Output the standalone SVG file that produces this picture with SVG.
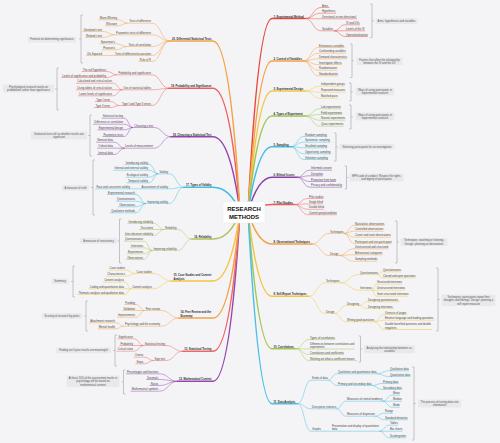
<svg xmlns="http://www.w3.org/2000/svg" width="500" height="443" viewBox="0 0 500 443">
<style>
text{font-family:"Liberation Sans",Arial,sans-serif;font-size:2.7px;fill:#444}
.l{font-weight:700;fill:#2a2a2a}
.e{text-anchor:end}
.m{text-anchor:middle;fill:#555}
.sb{fill:#e9e9ec}
.br{fill:none;stroke:#c2c2c6;stroke-width:1;stroke-linejoin:round;stroke-linecap:round}
.mn{fill:none;stroke-width:1.5;stroke-linecap:round}
.sub{fill:none;stroke-width:.6;opacity:.8}
.ctr{font-size:6px;font-weight:700;fill:#111;text-anchor:middle}
</style>
<rect width="500" height="443" fill="#f4f4f6"/>
<g id="connectors">
<g stroke="#e9473d"><path class="mn" d="M248 212Q258 18.5 272 18.5H305"/><g class="sub"><path d="M305 18.5C313 18.5 313 7.5 321 7.5H329.5M305 18.5C313 18.5 313 13.2 321 13.2H336M305 18.5C313 18.5 313 18.8 321 18.8H357M305 18.5C313 18.5 313 30.8 321 30.8H334M334 30.8C339.5 30.8 339.5 24.8 345 24.8H360M334 30.8H365M334 30.8C339.5 30.8 339.5 36.5 345 36.5H368"/></g></g>
<g stroke="#f4a146"><path class="mn" d="M248 212Q258 61 272 61H303.5"/><g class="sub"><path d="M303.5 61C310.8 61 310.8 47.5 318 47.5H344.5M303.5 61C310.8 61 310.8 53.2 318 53.2H346M303.5 61C310.8 61 310.8 58.8 318 58.8H347M303.5 61C310.8 61 310.8 64.5 318 64.5H342M303.5 61C310.8 61 310.8 70.2 318 70.2H337M303.5 61C310.8 61 310.8 75.8 318 75.8H338"/></g></g>
<g stroke="#f2c641"><path class="mn" d="M248 212Q258 91 272 91H305"/><g class="sub"><path d="M305 91C312.5 91 312.5 86.2 320 86.2H345M305 91C312.5 91 312.5 92.2 320 92.2H345.5M305 91C312.5 91 312.5 98.2 320 98.2H338"/></g></g>
<g stroke="#9dc44d"><path class="mn" d="M248 212Q258 116 272 116H305"/><g class="sub"><path d="M305 116C312.5 116 312.5 108.8 320 108.8H341M305 116C312.5 116 312.5 114.5 320 114.5H342M305 116C312.5 116 312.5 120.2 320 120.2H345M305 116C312.5 116 312.5 126.2 320 126.2H343.5"/></g></g>
<g stroke="#3fbde2"><path class="mn" d="M248 212Q258 146.7 272 146.7H290.5"/><g class="sub"><path d="M290.5 146.7C297.3 146.7 297.3 136.5 304 136.5H327M290.5 146.7C297.3 146.7 297.3 142.2 304 142.2H330M290.5 146.7C297.3 146.7 297.3 147.8 304 147.8H327M290.5 146.7C297.3 146.7 297.3 153.8 304 153.8H330.5M290.5 146.7C297.3 146.7 297.3 159.5 304 159.5H328"/></g></g>
<g stroke="#8a3fa6"><path class="mn" d="M248 212Q258 177.3 272 177.3H297"/><g class="sub"><path d="M297 177.3C303.5 177.3 303.5 170.2 310 170.2H332M297 177.3C303.5 177.3 303.5 175.8 310 175.8H323M297 177.3C303.5 177.3 303.5 181.5 310 181.5H336M297 177.3C303.5 177.3 303.5 187.2 310 187.2H342"/></g></g>
<g stroke="#ee5b5b"><path class="mn" d="M248 212Q258 204.5 272 204.5H294"/><g class="sub"><path d="M294 204.5C301 204.5 301 198.5 308 198.5H323.5M294 204.5C301 204.5 301 203.9 308 203.9H323M294 204.5C301 204.5 301 209.3 308 209.3H324M294 204.5C301 204.5 301 214.7 308 214.7H337"/></g></g>
<g stroke="#f4a146"><path class="mn" d="M248 212Q258 244 272 244H312"/><g class="sub"><path d="M312 244C320.5 244 320.5 233.5 329 233.5H344M312 244C320.5 244 320.5 255.5 329 255.5H338.5M344 233.5C349 233.5 349 225.5 354 225.5H384.5M344 233.5C349 233.5 349 231.2 354 231.2H383.5M344 233.5C349 233.5 349 237.2 354 237.2H391M344 233.5C349 233.5 349 243.5 354 243.5H391.5M338.5 255.5C346.3 255.5 346.3 248.8 354 248.8H388.5M338.5 255.5C346.3 255.5 346.3 254.8 354 254.8H382.5M338.5 255.5C346.3 255.5 346.3 261.2 354 261.2H377.5"/></g></g>
<g stroke="#f2c641"><path class="mn" d="M248 212Q258 296.3 272 296.3H308.5"/><g class="sub"><path d="M308.5 296.3C316.8 296.3 316.8 282.8 325 282.8H340M308.5 296.3C316.8 296.3 316.8 313.5 325 313.5H334.5M340 282.8C349.5 282.8 349.5 274.5 359 274.5H378M340 282.8C349.5 282.8 349.5 290.2 359 290.2H372M378 274.5C380 274.5 380 271.8 382 271.8H401M378 274.5C380 274.5 380 277.8 382 277.8H415.5M372 290.2C374 290.2 374 284.2 376 284.2H402M372 290.2H405M372 290.2C374 290.2 374 296.2 376 296.2H408M334.5 313.5C340.3 313.5 340.3 305.5 346 305.5H359M334.5 313.5C340.3 313.5 340.3 321.8 346 321.8H374.5M359 305.5C363 305.5 363 301.8 367 301.8H399.5M359 305.5C363 305.5 363 308.5 367 308.5H394M374.5 321.8C379.3 321.8 379.3 314.5 384 314.5H407.5M374.5 321.8C379.3 321.8 379.3 320.2 384 320.2H434.5M374.5 321.8C379.3 321.8 379.3 329.5 384 329.5H432"/></g></g>
<g stroke="#a6c653"><path class="mn" d="M248 212Q258 348.7 272 348.7H295.5"/><g class="sub"><path d="M295.5 348.7C302.3 348.7 302.3 339.5 309 339.5H335M295.5 348.7C302.3 348.7 302.3 349 309 349H354.5M295.5 348.7C302.3 348.7 302.3 354.5 309 354.5H344M295.5 348.7C302.3 348.7 302.3 360.5 309 360.5H357"/></g></g>
<g stroke="#4cc0e4"><path class="mn" d="M248 212Q258 403.7 272 403.7H297.5"/><g class="sub"><path d="M297.5 403.7C304.3 403.7 304.3 380.2 311 380.2H328M297.5 403.7C304.3 403.7 304.3 408.8 311 408.8H336.5M297.5 403.7C304.3 403.7 304.3 431.2 311 431.2H321M328 380.2C332.5 380.2 332.5 373.8 337 373.8H376.5M328 380.2C332.5 380.2 332.5 385.5 337 385.5H372M376.5 373.8C382.8 373.8 382.8 370.8 389 370.8H409M376.5 373.8C382.8 373.8 382.8 376.5 389 376.5H410.5M372 385.5C377 385.5 377 383.5 382 383.5H398.5M372 385.5C377 385.5 377 389.5 382 389.5H402M336.5 408.8C341.3 408.8 341.3 401.2 346 401.2H382.5M336.5 408.8C341.3 408.8 341.3 416.2 346 416.2H375M382.5 401.2C387.3 401.2 387.3 395.2 392 395.2H400M382.5 401.2H402M382.5 401.2C387.3 401.2 387.3 407.2 392 407.2H400M375 416.2C379.5 416.2 379.5 413.2 384 413.2H393M375 416.2C379.5 416.2 379.5 419.8 384 419.8H408M321 431.2H379.5M379.5 431.2C384.3 431.2 384.3 425.2 389 425.2H398M379.5 431.2H402.5M379.5 431.2C384.3 431.2 384.3 437.8 389 437.8H406"/></g></g>
<g stroke="#9347ae"><path class="mn" d="M240 212Q230 381.3 213 381.3H177.5"/><g class="sub"><path d="M177.5 381.3C168.4 381.3 168.4 373.8 159.3 373.8H126M177.5 381.3C168.4 381.3 168.4 379.5 159.3 379.5H146.2M177.5 381.3C168.4 381.3 168.4 385.5 159.3 385.5H149.6M177.5 381.3C168.4 381.3 168.4 391.2 159.3 391.2H130.6"/></g></g>
<g stroke="#ee6767"><path class="mn" d="M240 212Q230 351.3 213 351.3H182.5"/><g class="sub"><path d="M182.5 351.3C174.3 351.3 174.3 345.5 166 345.5H143.7M182.5 351.3C174.3 351.3 174.3 360.5 166 360.5H153.5M143.7 345.5C138.9 345.5 138.9 338.8 134 338.8H117.4M143.7 345.5H119.4M143.7 345.5C138.9 345.5 138.9 351.2 134 351.2H116.5M153.5 360.5C148.9 360.5 148.9 357.2 144.3 357.2H133.6M153.5 360.5C148.9 360.5 148.9 363.8 144.3 363.8H135.4"/></g></g>
<g stroke="#f4a146"><path class="mn" d="M240 212Q230 318 213 318H179"/><g class="sub"><path d="M179 318C170 318 170 310.5 161 310.5H144.7M179 318C170 318 170 326.2 161 326.2H123.7M144.7 310.5C140.4 310.5 140.4 304.5 136 304.5H124.2M144.7 310.5H122.1M144.7 310.5C140.4 310.5 140.4 317.2 136 317.2H116.9M123.7 326.2C119.9 326.2 119.9 322.8 116 322.8H89.1M123.7 326.2C119.9 326.2 119.9 328.8 116 328.8H97.8"/></g></g>
<g stroke="#f2c641"><path class="mn" d="M240 212Q230 281 213 281H172"/><g class="sub"><path d="M172 281C162.5 281 162.5 273.5 153 273.5H135.4M172 281C162.5 281 162.5 288.8 153 288.8H131M135.4 273.5C130.7 273.5 130.7 270.2 126 270.2H108.4M135.4 273.5C130.7 273.5 130.7 276.2 126 276.2H106.1M131 288.8C128 288.8 128 282.2 125 282.2H103M131 288.8H88.6M131 288.8C128 288.8 128 294.5 125 294.5H77.2"/></g></g>
<g stroke="#b0c15e"><path class="mn" d="M240 212Q230 239 213 239H192"/><g class="sub"><path d="M192 239C184.8 239 184.8 229.5 177.5 229.5H164M192 239C184.8 239 184.8 250.5 177.5 250.5H152.5M164 229.5C159 229.5 159 223.5 154 223.5H127.4M164 229.5H139M164 229.5C159 229.5 159 235.5 154 235.5H124M152.5 250.5C148.3 250.5 148.3 241.2 144 241.2H123.8M152.5 250.5C148.3 250.5 148.3 247.8 144 247.8H129.8M152.5 250.5C148.3 250.5 148.3 253.8 144 253.8H127M152.5 250.5C148.3 250.5 148.3 259.5 144 259.5H126"/></g></g>
<g stroke="#3fbde2"><path class="mn" d="M240 212Q230 187.3 213 187.3H184"/><g class="sub"><path d="M184 187.3C176.5 187.3 176.5 173.8 169 173.8H158.3M184 187.3C176.5 187.3 176.5 188.8 169 188.8H140.3M184 187.3C176.5 187.3 176.5 203.5 169 203.5H146M158.3 173.8C153.7 173.8 153.7 164.5 149 164.5H124.6M158.3 173.8C153.7 173.8 153.7 170.2 149 170.2H113.4M158.3 173.8C153.7 173.8 153.7 177.2 149 177.2H125.7M158.3 173.8C153.7 173.8 153.7 182.8 149 182.8H126.6M140.3 188.8H95.2M146 203.5C141 203.5 141 194.5 136 194.5H107M146 203.5C141 203.5 141 201.2 136 201.2H115.8M146 203.5C141 203.5 141 206.8 136 206.8H118M146 203.5C141 203.5 141 212.8 136 212.8H110"/></g></g>
<g stroke="#9347ae"><path class="mn" d="M240 212Q230 136.7 213 136.7H171"/><g class="sub"><path d="M171 136.7C162.5 136.7 162.5 127.5 154 127.5H133M171 136.7C162.5 136.7 162.5 148.2 154 148.2H124.8M133 127.5C128.5 127.5 128.5 118.2 124 118.2H101.7M133 127.5C128.5 127.5 128.5 124.2 124 124.2H93M133 127.5C128.5 127.5 128.5 129.8 124 129.8H97.5M133 127.5C128.5 127.5 128.5 136.5 124 136.5H102.5M124.8 148.2C119.4 148.2 119.4 142.2 114 142.2H96M124.8 148.2H97M124.8 148.2C119.4 148.2 119.4 154.5 114 154.5H97"/></g></g>
<g stroke="#ee6060"><path class="mn" d="M240 212Q230 88.3 213 88.3H169"/><g class="sub"><path d="M169 88.3C160.5 88.3 160.5 74.8 152 74.8H117M169 88.3C160.5 88.3 160.5 89.8 152 89.8H122.5M169 88.3C160.5 88.3 160.5 105.5 152 105.5H119M117 74.8C112 74.8 112 71.5 107 71.5H81.7M117 74.8C112 74.8 112 77.5 107 77.5H61M122.5 89.8C117.8 89.8 117.8 83.2 113 83.2H76M122.5 89.8H76M122.5 89.8C117.8 89.8 117.8 95.8 113 95.8H78M119 105.5C115 105.5 115 101.5 111 101.5H95M119 105.5C115 105.5 115 107.5 111 107.5H94"/></g></g>
<g stroke="#f4a146"><path class="mn" d="M240 212Q230 41 213 41H170"/><g class="sub"><path d="M170 41C161 41 161 23.2 152 23.2H127.5M170 41C161 41 161 34.8 152 34.8H114.5M170 41C161 41 161 46.5 152 46.5H127M170 41C161 41 161 55.5 152 55.5H113.5M170 41C161 41 161 61.5 152 61.5H138.5M127.5 23.2C122.8 23.2 122.8 19.8 118 19.8H98.5M127.5 23.2C122.8 23.2 122.8 25.8 118 25.8H105M114.5 34.8C108.8 34.8 108.8 31.5 103 31.5H82.5M114.5 34.8C108.8 34.8 108.8 37.5 103 37.5H85M127 46.5C121.5 46.5 121.5 43.8 116 43.8H99.5M127 46.5C121.5 46.5 121.5 49.8 116 49.8H102M113.5 55.5H85.8"/></g></g>
</g>
<g id="center"><rect x="223" y="201.5" width="42" height="21.5" rx="1.5" fill="#fff" stroke="#e2e2e6" stroke-width=".4"/><text class="ctr" x="244" y="211.4">RESEARCH</text><text class="ctr" x="244" y="218.9">METHODS</text></g>
<g id="brackets" class="br">
<path d="M370.5 4H372V37.5H370.5M372 20.8H373.5"/>
<path d="M350.5 44H352V77.5H350.5M352 60.8H353.5"/>
<path d="M349.5 83H351V101H349.5M351 92H352.5"/>
<path d="M349.5 105H351V129H349.5M351 117H352.5"/>
<path d="M334.5 133H336V161H334.5M336 147H337.5"/>
<path d="M345 166H346.5V189H345M346.5 177.5H348"/>
<path d="M395.5 221H397V263H395.5M397 242H398.5"/>
<path d="M436.5 268H438V331H436.5M438 299.5H439.5"/>
<path d="M359 336H360.5V362H359M360.5 349H362"/>
<path d="M412.5 367H414V440H412.5M414 403.5H415.5"/>
<path d="M82.5 15H81V63H82.5M81 39H79.5"/>
<path d="M58.5 68H57V110H58.5M57 89H55.5"/>
<path d="M91.5 115H90V156H91.5M90 135.5H88.5"/>
<path d="M94.5 160H93V215H94.5M93 187.5H91.5"/>
<path d="M121 219H119.5V263H121M119.5 241H118"/>
<path d="M74.5 266H73V297H74.5M73 281.5H71.5"/>
<path d="M87.5 301H86V331H87.5M86 316H84.5"/>
<path d="M116.5 335H115V366H116.5M115 350.5H113.5"/>
<path d="M125 370H123.5V394H125M123.5 382H122"/>
</g>
<g id="summaries">
<rect class="sb" x="375.5" y="18.3" width="42" height="5.6" rx="1.2"/><text class="m" x="396.5" y="22">Aims, hypotheses and variables</text>
<rect class="sb" x="356.5" y="57.5" width="46" height="7.6" rx="1.2"/><text class="m" x="379.5" y="60.6">Factors that affect the relationship</text><text class="m" x="379.5" y="63.8">between the IV and the DV</text>
<rect class="sb" x="355.5" y="87.5" width="39" height="8" rx="1.2"/><text class="m" x="375" y="90.8">Ways of using participants in</text><text class="m" x="375" y="94">experimental research</text>
<rect class="sb" x="355.5" y="112.5" width="39" height="8" rx="1.2"/><text class="m" x="375" y="115.8">Ways of using participants in</text><text class="m" x="375" y="119">experimental research</text>
<rect class="sb" x="339.5" y="144" width="55" height="5.6" rx="1.2"/><text class="m" x="367" y="147.7">Selecting participants for an investigation</text>
<rect class="sb" x="349.5" y="173.5" width="54" height="8" rx="1.2"/><text class="m" x="376.5" y="176.8">BPS code of conduct: Respect the rights</text><text class="m" x="376.5" y="180">and dignity of participants</text>
<rect class="sb" x="400.5" y="238" width="47" height="8" rx="1.2"/><text class="m" x="424" y="241.3">Techniques: watching or listening.</text><text class="m" x="424" y="244.5">Design: planning an observation</text>
<rect class="sb" x="441.5" y="294.5" width="54" height="11.5" rx="1.2"/><text class="m" x="468.5" y="297.9">Techniques: participants report their</text><text class="m" x="468.5" y="301.2">thoughts and feelings. Design: planning a</text><text class="m" x="468.5" y="304.5">self report measure</text>
<rect class="sb" x="364" y="345.3" width="51" height="8" rx="1.2"/><text class="m" x="389.5" y="348.6">Analysing the relationship between co-</text><text class="m" x="389.5" y="351.8">variables</text>
<rect class="sb" x="418" y="399.5" width="43" height="8" rx="1.2"/><text class="m" x="439.5" y="402.8">The process of turning data into</text><text class="m" x="439.5" y="406">information</text>
<rect class="sb" x="28" y="36.5" width="48" height="6" rx="1.2"/><text class="m" x="52" y="40.4">Formula for determining significance</text>
<rect class="sb" x="3" y="84.5" width="51" height="8" rx="1.2"/><text class="m" x="28.5" y="87.8">Psychological research works on</text><text class="m" x="28.5" y="91">probabilities rather than significance</text>
<rect class="sb" x="31" y="131.5" width="56" height="8" rx="1.2"/><text class="m" x="59" y="134.8">Statistical tests tell us whether results are</text><text class="m" x="59" y="138">significant</text>
<rect class="sb" x="62" y="185" width="27" height="5.8" rx="1.2"/><text class="m" x="75.5" y="188.8">A measure of truth</text>
<rect class="sb" x="80" y="238" width="37" height="5.8" rx="1.2"/><text class="m" x="98.5" y="241.8">A measure of consistency</text>
<rect class="sb" x="51.5" y="278.5" width="17" height="5.8" rx="1.2"/><text class="m" x="60" y="282.3">Summary</text>
<rect class="sb" x="42" y="313" width="40" height="5.8" rx="1.2"/><text class="m" x="62" y="316.8">Scrutiny of research by peers</text>
<rect class="sb" x="56" y="347.5" width="55" height="5.8" rx="1.2"/><text class="m" x="83.5" y="351.3">Finding out if your results are meaningful</text>
<rect class="sb" x="66.5" y="375.5" width="53" height="11.5" rx="1.2"/><text class="m" x="93" y="378.9">At least 10% of the assessment marks in</text><text class="m" x="93" y="382.2">psychology will be based on</text><text class="m" x="93" y="385.5">mathematical content</text>
</g>
<g id="b1"><text class="l" x="273.5" y="17.5">1. Experimental Method</text><text x="322" y="6.6">Aims</text><text x="322" y="12.3">Hypothesis</text><text x="322" y="17.9">Directional or non-directional</text><text x="322" y="29.9">Variables</text><text x="346" y="23.9">IV and DVs</text><text x="346" y="29.9">Levels of the IV</text><text x="346" y="35.6">Operationalisation</text></g>
<g id="b2"><text class="l" x="273.5" y="60">2. Control of Variables</text><text x="319" y="46.6">Extraneous variables</text><text x="319" y="52.3">Confounding variables</text><text x="319" y="57.9">Demand characteristics</text><text x="319" y="63.6">Investigator effects</text><text x="319" y="69.3">Randomisation</text><text x="319" y="74.9">Standardisation</text></g>
<g id="b3"><text class="l" x="273.5" y="90">3. Experimental Design</text><text x="321" y="85.3">Independent groups</text><text x="321" y="91.3">Repeated measures</text><text x="321" y="97.3">Matched pairs</text></g>
<g id="b4"><text class="l" x="273.5" y="115">4. Types of Experiment</text><text x="321" y="107.9">Lab experiments</text><text x="321" y="113.6">Field experiments</text><text x="321" y="119.3">Natural experiments</text><text x="321" y="125.3">Quasi experiments</text></g>
<g id="b5"><text class="l" x="273.5" y="145.7">5. Sampling</text><text x="305" y="135.6">Random sampling</text><text x="305" y="141.3">Systematic sampling</text><text x="305" y="146.9">Stratified sampling</text><text x="305" y="152.9">Opportunity sampling</text><text x="305" y="158.6">Volunteer sampling</text></g>
<g id="b6"><text class="l" x="273.5" y="176.3">6. Ethical Issues</text><text x="311" y="169.3">Informed consent</text><text x="311" y="174.9">Deception</text><text x="311" y="180.6">Protection from harm</text><text x="311" y="186.3">Privacy and confidentiality</text></g>
<g id="b7"><text class="l" x="273.5" y="203.5">7. Pilot Studies</text><text x="309" y="197.6">Pilot studies</text><text x="309" y="203">Single blind</text><text x="309" y="208.4">Double blind</text><text x="309" y="213.8">Control group/condition</text></g>
<g id="b8"><text class="l" x="273.5" y="243">8. Observational Techniques</text><text x="330" y="232.6">Techniques</text><text x="330" y="254.6">Design</text><text x="355" y="224.6">Naturalistic observations</text><text x="355" y="230.3">Controlled observations</text><text x="355" y="236.3">Covert and overt observations</text><text x="355" y="242.6">Participant and non-participant</text><text x="355" y="247.9">Unstructured and structured</text><text x="355" y="253.9">Behavioural categories</text><text x="355" y="260.3">Sampling methods</text></g>
<g id="b9"><text class="l" x="273.5" y="295.3">9. Self-Report Techniques</text><text x="326" y="281.9">Techniques</text><text x="326" y="312.6">Design</text><text x="360" y="273.6">Questionnaires</text><text x="360" y="289.3">Interviews</text><text x="383" y="270.9">Questionnaires</text><text x="383" y="276.9">Closed and open questions</text><text x="377" y="283.3">Structured interviews</text><text x="377" y="289.3">Unstructured interviews</text><text x="377" y="295.3">Semi structured interviews</text><text x="347" y="304.6">Designing</text><text x="347" y="320.9">Writing good questions</text><text x="368" y="300.9">Designing questionnaires</text><text x="368" y="307.6">Designing interviews</text><text x="385" y="313.6">Overuse of jargon</text><text x="385" y="319.3">Emotive language and leading questions</text><text x="385" y="325.2">Double barrelled questions and double</text><text x="385" y="328.6">negatives</text></g>
<g id="b10"><text class="l" x="273.5" y="347.7">10. Correlations</text><text x="310" y="338.6">Types of correlations</text><text x="310" y="344.7">Differences between correlations and</text><text x="310" y="348.1">experiments</text><text x="310" y="353.6">Correlations and coefficients</text><text x="310" y="359.6">Working out what a coefficient means</text></g>
<g id="b11"><text class="l" x="273.5" y="402.7">11. Data Analysis</text><text x="312" y="379.3">Kinds of data</text><text x="312" y="407.9">Descriptive statistics</text><text x="312" y="430.3">Graphs</text><text x="338" y="372.9">Qualitative and quantitative data</text><text x="338" y="384.6">Primary and secondary data</text><text x="390" y="369.9">Qualitative data</text><text x="390" y="375.6">Quantitative data</text><text x="383" y="382.6">Primary data</text><text x="383" y="388.6">Secondary data</text><text x="347" y="400.3">Measures of central tendency</text><text x="347" y="415.3">Measures of dispersion</text><text x="393" y="394.3">Mean</text><text x="393" y="400.3">Median</text><text x="393" y="406.3">Mode</text><text x="385" y="412.3">Range</text><text x="385" y="418.9">Standard deviation</text><text x="332" y="426.9">Presentation and display of quantitative</text><text x="332" y="430.3">data</text><text x="390" y="424.3">Tables</text><text x="390" y="430.3">Bar charts</text><text x="390" y="436.9">Scattergrams</text></g>
<g id="b12"><text class="l e" x="211.5" y="380.3">12. Mathematical Content</text><text class="e" x="158.3" y="372.9">Percentages and fractions</text><text class="e" x="158.3" y="378.6">Decimals</text><text class="e" x="158.3" y="384.6">Ratios</text><text class="e" x="158.3" y="390.3">Mathematical symbols</text></g>
<g id="b13"><text class="l e" x="211.5" y="350.3">13. Statistical Testing</text><text class="e" x="165" y="344.6">Statistical testing</text><text class="e" x="165" y="359.6">Sign test</text><text class="e" x="133" y="337.9">Significance</text><text class="e" x="133" y="344.6">Probability</text><text class="e" x="133" y="350.3">Critical value</text><text class="e" x="143.3" y="356.3">Criteria</text><text class="e" x="143.3" y="362.9">Steps</text></g>
<g id="b14"><text class="l" x="180.5" y="313.3">14. Peer Review and the</text><text class="l" x="180.5" y="317">Economy</text><text class="e" x="160" y="309.6">Peer review</text><text class="e" x="160" y="325.3">Psychology and the economy</text><text class="e" x="135" y="303.6">Funding</text><text class="e" x="135" y="309.6">Validation</text><text class="e" x="135" y="316.3">Improvements</text><text class="e" x="115" y="321.9">Attachment research</text><text class="e" x="115" y="327.9">Mental health</text></g>
<g id="b15"><text class="l" x="173.5" y="276.2">15. Case Studies and Content</text><text class="l" x="173.5" y="280">Analysis</text><text class="e" x="152" y="272.6">Case studies</text><text class="e" x="152" y="287.9">Content analysis</text><text class="e" x="125" y="269.3">Case studies</text><text class="e" x="125" y="275.3">Characteristics</text><text class="e" x="124" y="281.3">Content analysis</text><text class="e" x="124" y="287.6">Coding and quantitative data</text><text class="e" x="124" y="293.6">Thematic analysis and qualitative data</text></g>
<g id="b16"><text class="l e" x="211.5" y="238">16. Reliability</text><text class="e" x="176.5" y="228.6">Reliability</text><text class="e" x="176.5" y="249.6">Improving reliability</text><text class="e" x="153" y="222.6">Introducing reliability</text><text class="e" x="153" y="228.6">Test-retest</text><text class="e" x="153" y="234.6">Inter-observer reliability</text><text class="e" x="143" y="240.3">Questionnaires</text><text class="e" x="143" y="246.9">Interviews</text><text class="e" x="143" y="252.9">Experiments</text><text class="e" x="143" y="258.6">Observations</text></g>
<g id="b17"><text class="l e" x="211.5" y="186.3">17. Types of Validity</text><text class="e" x="168" y="172.9">Validity</text><text class="e" x="168" y="187.9">Assessment of validity</text><text class="e" x="168" y="202.6">Improving validity</text><text class="e" x="148" y="163.6">Introducing validity</text><text class="e" x="148" y="169.3">Internal and external validity</text><text class="e" x="148" y="176.3">Ecological validity</text><text class="e" x="148" y="181.9">Temporal validity</text><text class="e" x="130" y="187.9">Face and concurrent validity</text><text class="e" x="135" y="193.6">Experimental research</text><text class="e" x="135" y="200.3">Questionnaires</text><text class="e" x="135" y="205.9">Observations</text><text class="e" x="135" y="211.9">Qualitative methods</text></g>
<g id="b18"><text class="l e" x="211.5" y="135.7">18. Choosing a Statistical Test</text><text class="e" x="153" y="126.6">Choosing a test</text><text class="e" x="153" y="147.3">Levels of measurement</text><text class="e" x="123" y="117.3">Statistical testing</text><text class="e" x="123" y="123.3">Difference or correlation</text><text class="e" x="123" y="128.9">Experimental design</text><text class="e" x="123" y="135.6">Parametric tests</text><text class="e" x="113" y="141.3">Nominal data</text><text class="e" x="113" y="147.3">Ordinal data</text><text class="e" x="113" y="153.6">Interval data</text></g>
<g id="b19"><text class="l e" x="211.5" y="87.3">19. Probability and Significance</text><text class="e" x="151" y="73.9">Probability and significance</text><text class="e" x="151" y="88.9">Use of statistical tables</text><text class="e" x="151" y="104.6">Type I and Type II errors</text><text class="e" x="106" y="70.6">The null hypothesis</text><text class="e" x="106" y="76.6">Levels of significance and probability</text><text class="e" x="112" y="82.3">Calculated and critical values</text><text class="e" x="112" y="88.9">Using tables of critical values</text><text class="e" x="112" y="94.9">Lower levels of significance</text><text class="e" x="110" y="100.6">Type I error</text><text class="e" x="110" y="106.6">Type II error</text></g>
<g id="b20"><text class="l e" x="211.5" y="40">20. Differential Statistical Tests</text><text class="e" x="151" y="22.3">Tests of difference</text><text class="e" x="151" y="33.9">Parametric tests of difference</text><text class="e" x="151" y="45.6">Tests of correlation</text><text class="e" x="151" y="54.6">Tests of difference/association</text><text class="e" x="151" y="60.6">Rule of R</text><text class="e" x="117" y="18.9">Mann-Whitney</text><text class="e" x="117" y="24.9">Wilcoxon</text><text class="e" x="102" y="30.6">Unrelated t-test</text><text class="e" x="102" y="36.6">Related t-test</text><text class="e" x="115" y="42.9">Spearman's</text><text class="e" x="115" y="48.9">Pearson's</text><text class="e" x="102" y="54.6">Chi-Squared</text></g>
</svg>
